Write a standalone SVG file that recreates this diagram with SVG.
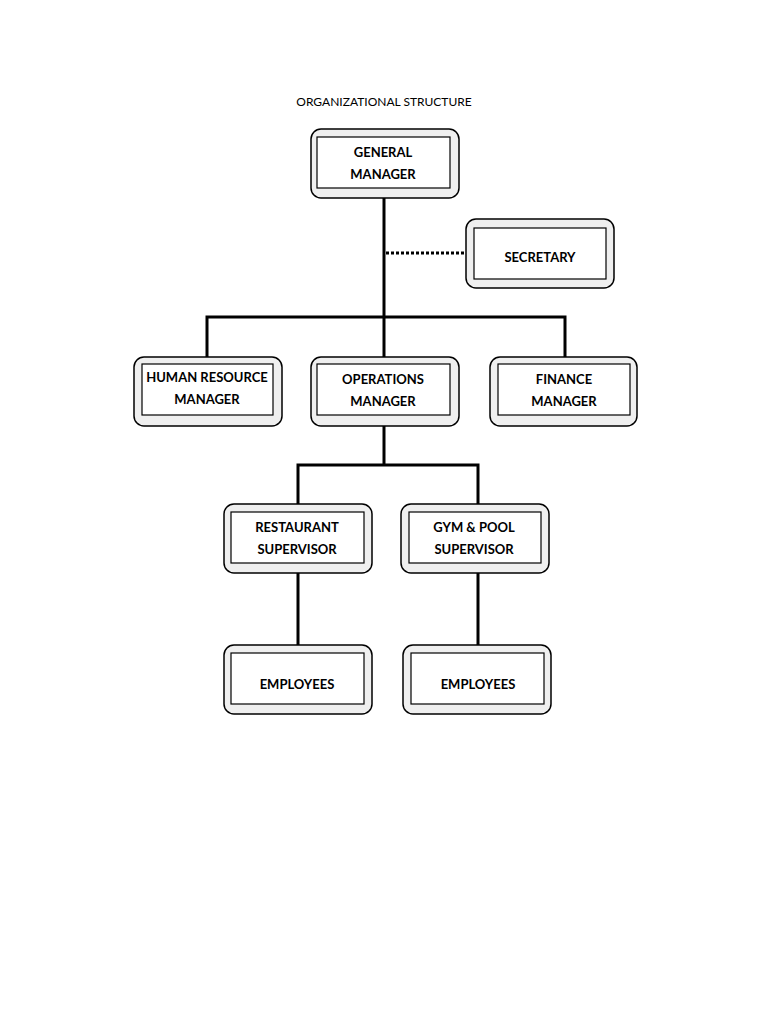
<svg xmlns="http://www.w3.org/2000/svg" width="768" height="1024" viewBox="0 0 768 1024">
<style>
.o{fill:#efefef;stroke:#000;stroke-width:1.5}
.i{fill:#fff;stroke:#000;stroke-width:1.2}
text{font-family:Lato,"Open Sans","Liberation Sans",sans-serif;font-size:13px;font-weight:bold;text-anchor:middle;fill:#000}
.c{stroke:#000;stroke-width:3;fill:none}
</style>
<rect width="768" height="1024" fill="#fff"/>
<text x="384" y="106" style="font-weight:normal;font-size:12px">ORGANIZATIONAL STRUCTURE</text>
<g id="connectors">
<path class="c" d="M384 198V357M207 357V317H565V357M384 426V465M298 504V465H478V504M298 573V645M478 573V645"/>
<path d="M386 253H466" stroke="#000" stroke-width="3" stroke-dasharray="3 2"/>
</g>
<g id="gm"><rect class="o" x="311" y="129" width="148" height="69" rx="10"/><rect class="i" x="317" y="137" width="133" height="51"/><text x="383" y="157">GENERAL</text><text x="383" y="179">MANAGER</text></g>
<g id="sec"><rect class="o" x="466" y="219" width="148" height="69" rx="10"/><rect class="i" x="474" y="228" width="132" height="51"/><text x="540" y="262">SECRETARY</text></g>
<g id="hr"><rect class="o" x="134" y="357" width="148" height="69" rx="10"/><rect class="i" x="142" y="364" width="131" height="51"/><text x="207" y="382">HUMAN RESOURCE</text><text x="207" y="404">MANAGER</text></g>
<g id="ops"><rect class="o" x="311" y="357" width="148" height="69" rx="10"/><rect class="i" x="317" y="364" width="133" height="51"/><text x="383" y="384">OPERATIONS</text><text x="383" y="406">MANAGER</text></g>
<g id="fin"><rect class="o" x="490" y="357" width="147" height="69" rx="10"/><rect class="i" x="498" y="364" width="132" height="51"/><text x="564" y="384">FINANCE</text><text x="564" y="406">MANAGER</text></g>
<g id="rest"><rect class="o" x="224" y="504" width="148" height="69" rx="10"/><rect class="i" x="231" y="512" width="133" height="51"/><text x="297" y="532">RESTAURANT</text><text x="297" y="554">SUPERVISOR</text></g>
<g id="gym"><rect class="o" x="401" y="504" width="148" height="69" rx="10"/><rect class="i" x="409" y="512" width="132" height="51"/><text x="474" y="532">GYM &amp; POOL</text><text x="474" y="554">SUPERVISOR</text></g>
<g id="emp1"><rect class="o" x="224" y="645" width="148" height="69" rx="10"/><rect class="i" x="231" y="653" width="133" height="51"/><text x="297" y="689">EMPLOYEES</text></g>
<g id="emp2"><rect class="o" x="403" y="645" width="148" height="69" rx="10"/><rect class="i" x="411" y="653" width="133" height="51"/><text x="478" y="689">EMPLOYEES</text></g>
</svg>
